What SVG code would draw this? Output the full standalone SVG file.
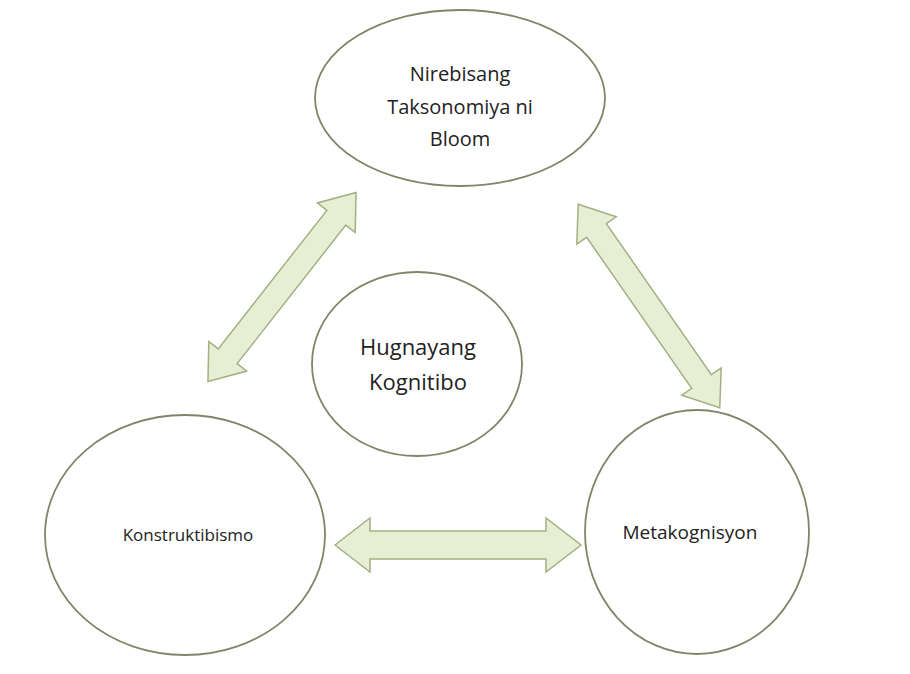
<svg xmlns="http://www.w3.org/2000/svg" width="910" height="674" viewBox="0 0 910 674">
<style>
.n{fill:#fff;stroke:#7d8768;stroke-width:1.8}
.a{fill:#e8eed3;stroke:#a3b083;stroke-width:1.5}
text{font-family:"Open Sans","Liberation Sans",sans-serif;fill:#222;text-anchor:middle}
</style>
<rect width="910" height="674" fill="#fff"/>
<g id="connectors">
<path class="a" transform="translate(458,545)" d="M-123,0 L-88,-27 L-88,-14 L88,-14 L88,-27 L123,0 L88,27 L88,14 L-88,14 L-88,27 Z"/>
<path class="a" transform="translate(282,287) rotate(-51.9)" d="M-120,0 L-88,-24 L-88,-12 L88,-12 L88,-24 L120,0 L88,24 L88,12 L-88,12 L-88,24 Z"/>
<path class="a" transform="translate(649,306) rotate(55.2)" d="M-124,0 L-92,-24 L-92,-12 L92,-12 L92,-24 L124,0 L92,24 L92,12 L-92,12 L-92,24 Z"/>
</g>
<g id="top"><ellipse class="n" cx="460" cy="98" rx="145" ry="88"/>
<text x="460" y="81" font-size="20">Nirebisang</text><text x="460" y="114" font-size="20">Taksonomiya ni</text><text x="460" y="146" font-size="20">Bloom</text></g>
<g id="center"><ellipse class="n" cx="417" cy="364" rx="105" ry="92"/>
<text x="418" y="355" font-size="22">Hugnayang</text><text x="418" y="390" font-size="22">Kognitibo</text></g>
<g id="left"><ellipse class="n" cx="185" cy="535" rx="140" ry="120"/>
<text x="188" y="541" font-size="17">Konstruktibismo</text></g>
<g id="right"><ellipse class="n" cx="697" cy="532" rx="112" ry="122"/>
<text x="690" y="539" font-size="19">Metakognisyon</text></g>
</svg>
